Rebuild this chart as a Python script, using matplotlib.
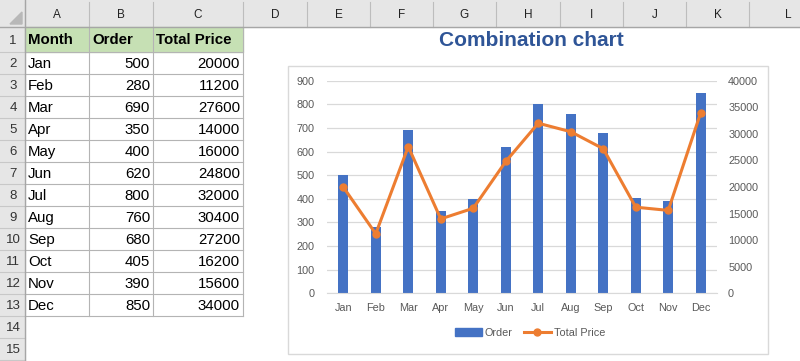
import matplotlib.pyplot as plt
from matplotlib.patches import Rectangle, Polygon
from matplotlib.lines import Line2D

# Datos de la hoja
months = ["Jan", "Feb", "Mar", "Apr", "May", "Jun",
          "Jul", "Aug", "Sep", "Oct", "Nov", "Dec"]
orders = [500, 280, 690, 350, 400, 620, 800, 760, 680, 405, 390, 850]
prices = [20000, 11200, 27600, 14000, 16000, 24800,
          32000, 30400, 27200, 16200, 15600, 34000]
headers = ["Month", "Order", "Total Price"]
col_letters = ["A", "B", "C", "D", "E", "F", "G", "H", "I", "J", "K", "L"]

plt.rcParams["font.family"] = ["Liberation Sans", "DejaVu Sans"]

fig = plt.figure(figsize=(8, 3.61), dpi=100)

# Hoja de cálculo (coordenadas en píxeles)
sheet = fig.add_axes([0, 0, 1, 1])
sheet.set_xlim(0, 800)
sheet.set_ylim(361, 0)
sheet.axis("off")

col_edges = [25, 89, 153, 243, 307, 370, 433, 496, 560, 623, 686, 749, 827]
row_edges = [27, 52] + [52 + 22 * i for i in range(1, 15)]

# Encabezado de columnas
sheet.add_patch(Rectangle((0, 0), 800, 27, color="#E6E6E6", zorder=1))
sheet.add_patch(Rectangle((0, 0), 25, 361, color="#E6E6E6", zorder=1))
sheet.add_patch(Polygon([[22, 24], [22, 12], [10, 24]], color="#B8B8B8", zorder=2))
for i, letter in enumerate(col_letters):
    x0, x1 = col_edges[i], col_edges[i + 1]
    sheet.plot([x0, x0], [2, 27], color="#BDBDBD", lw=0.8, zorder=2)
    sheet.text((x0 + x1) / 2, 15, letter, ha="center", va="center",
               fontsize=8.5, color="#222222", zorder=3)
sheet.plot([0, 800], [27, 27], color="#A6A6A6", lw=1, zorder=3)
sheet.plot([25, 25], [0, 361], color="#A6A6A6", lw=1, zorder=3)

# Encabezado de filas
for r in range(15):
    y0, y1 = row_edges[r], row_edges[r + 1]
    sheet.plot([0, 25], [y1, y1], color="#C8C8C8", lw=0.8, zorder=2)
    sheet.text(13, (y0 + y1) / 2 + 1, str(r + 1), ha="center", va="center",
               fontsize=9.5, color="#333333", zorder=3)

# Cabecera de la tabla
for c in range(3):
    sheet.add_patch(Rectangle((col_edges[c], row_edges[0]),
                              col_edges[c + 1] - col_edges[c],
                              row_edges[1] - row_edges[0],
                              color="#C6E0B4", zorder=1))
    sheet.text(col_edges[c] + 3, (row_edges[0] + row_edges[1]) / 2 + 1,
               headers[c], ha="left", va="center", fontsize=10.8,
               fontweight="bold", color="black", zorder=3)

# Valores
for r in range(12):
    yc = (row_edges[r + 1] + row_edges[r + 2]) / 2 + 1
    sheet.text(col_edges[0] + 3, yc, months[r], ha="left", va="center",
               fontsize=10.8, color="black", zorder=3)
    sheet.text(col_edges[2] - 3, yc, str(orders[r]), ha="right", va="center",
               fontsize=10.8, color="black", zorder=3)
    sheet.text(col_edges[3] - 3, yc, str(prices[r]), ha="right", va="center",
               fontsize=10.8, color="black", zorder=3)

# Bordes de la tabla
for y in row_edges[1:14]:
    sheet.plot([col_edges[0], col_edges[3]], [y, y], color="#B4B4B4", lw=0.8, zorder=2)
for x in col_edges[1:4]:
    sheet.plot([x, x], [row_edges[0], row_edges[13]], color="#B4B4B4", lw=0.8, zorder=2)

# Título y marco del gráfico
sheet.text(531, 40, "Combination chart", ha="center", va="center",
           fontsize=15, fontweight="bold", color="#2F5597", zorder=3)
sheet.add_patch(Rectangle((288, 66), 480, 288, facecolor="white",
                          edgecolor="#D9D9D9", lw=1, zorder=2))

# Gráfico combinado
ax = fig.add_axes([327 / 800, (361 - 293.3) / 361, 390 / 800, 212.6 / 361])
ax.set_facecolor("none")
x = list(range(len(months)))
ax.bar(x, orders, width=0.31, color="#4472C4", zorder=2, label="Order")
ax.set_xlim(-0.5, 11.5)
ax.set_ylim(0, 900)
ax.set_yticks(range(0, 901, 100))
ax.set_xticks(x)
ax.set_xticklabels(months)
ax.grid(axis="y", color="#D9D9D9", lw=0.9, zorder=0)
ax.set_axisbelow(True)
for s in ["top", "left", "right"]:
    ax.spines[s].set_visible(False)
ax.spines["bottom"].set_color("#D9D9D9")
ax.tick_params(length=0, labelsize=7.8, labelcolor="#595959")
ax.tick_params(axis="y", pad=9)
ax.tick_params(axis="x", pad=7)

ax2 = ax.twinx()
ax2.plot(x, prices, color="#ED7D31", lw=2.2, marker="o", ms=5,
         zorder=3, label="Total Price")
ax2.set_ylim(0, 40000)
ax2.set_yticks(range(0, 40001, 5000))
for s in ["top", "left", "right", "bottom"]:
    ax2.spines[s].set_visible(False)
ax2.tick_params(length=0, labelsize=7.8, labelcolor="#595959", pad=8)

handles = [Rectangle((0, 0), 1, 1, color="#4472C4"),
           Line2D([], [], color="#ED7D31", lw=2.2, marker="o", ms=5)]
fig.legend(handles, ["Order", "Total Price"], loc="center",
           bbox_to_anchor=(530 / 800, 1 - 333 / 361), ncol=2, frameon=False,
           fontsize=7.8, labelcolor="#595959", handlelength=2.5,
           handletextpad=0.3, columnspacing=1.0)

fig.savefig("out.png", dpi=100)
